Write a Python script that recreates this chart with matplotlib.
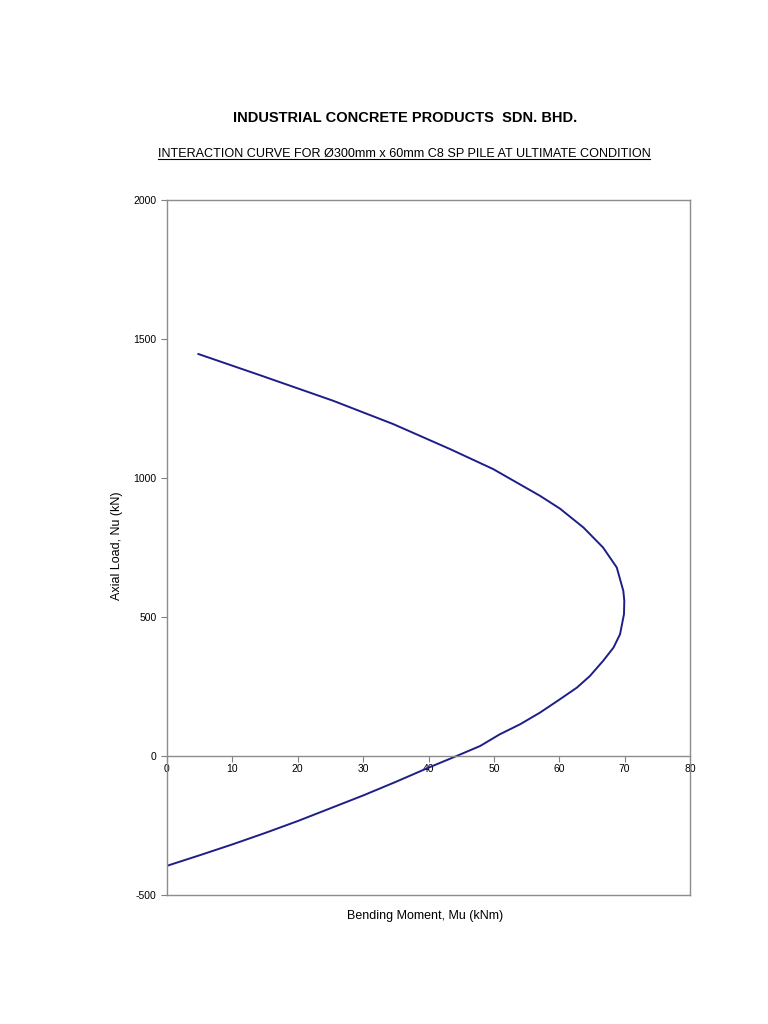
import numpy as np
import matplotlib
matplotlib.use("Agg")
import matplotlib.pyplot as plt
from matplotlib.lines import Line2D

plt.rcParams['font.family'] = ['Liberation Sans', 'DejaVu Sans']
plt.rcParams['axes.unicode_minus'] = False

# interaction curve (moment kNm, axial load kN)
moment = [4.8, 14.2, 25.4, 34.6, 43.3, 49.9, 57.05, 60.1, 63.7, 66.7, 68.8,
          69.8, 69.95, 69.9, 69.3, 68.3, 66.7, 64.7, 62.7, 60.1, 57.05, 54.0,
          50.9, 47.9, 44.3, 40.0, 35.0, 30.0, 25.0, 20.0, 15.0, 10.0, 5.0, 0.0]
axial = [1446, 1370, 1278, 1194, 1104, 1032, 936, 890, 822, 750, 678,
         594, 558, 510, 438, 390, 342, 288, 246, 204, 156, 114,
         78, 36, 0, -42, -93, -142, -188, -234, -277, -318, -357, -395]

x_ticks = [0, 10, 20, 30, 40, 50, 60, 70, 80]
y_ticks = [-500, 0, 500, 1000, 1500, 2000]

title = "INDUSTRIAL CONCRETE PRODUCTS  SDN. BHD."
subtitle = "INTERACTION CURVE FOR \u00d8300mm x 60mm C8 SP PILE AT ULTIMATE CONDITION"

fig = plt.figure(figsize=(7.68, 10.24), dpi=100)
ax = fig.add_axes([167/768, 1-895/1024, 523/768, 695/1024])

ax.plot(moment, axial, color='#1e1e88', linewidth=1.4, solid_joinstyle='round')

ax.set_xlim(0, 80)
ax.set_ylim(-500, 2000)
ax.set_xticks(x_ticks)
ax.set_yticks(y_ticks)
ax.tick_params(labelsize=7.5, length=4, width=0.8, color='#808080')
ax.tick_params(axis='x', pad=2)

for s in ax.spines.values():
	s.set_color('#8c8c8c')
	s.set_linewidth(1.0)
# x axis sits on the zero line, the frame still closes at the bottom
ax.spines['bottom'].set_position(('data', 0))
ax.plot([0, 1], [0, 0], transform=ax.transAxes, color='#8c8c8c', lw=1.0, clip_on=False)

ax.set_xlabel("Bending Moment, Mu (kNm)", fontsize=9)
ax.set_ylabel("Axial Load, Nu (kN)", fontsize=9)
ax.xaxis.set_label_coords(0.493, -0.022)
ax.yaxis.set_label_coords(-0.085, 0.502)

fig.text(0.528, 1-118/1024, title, ha='center', va='center', fontsize=10.5, fontweight='bold')
sub = fig.text(0.526, 1-154/1024, subtitle, ha='center', va='center', fontsize=9.1)

# underline the subtitle
fig.canvas.draw()
bb = sub.get_window_extent().transformed(fig.transFigure.inverted())
fig.add_artist(Line2D([bb.x0, bb.x1], [bb.y0 + 0.001, bb.y0 + 0.001], color='black', lw=0.8,
                      transform=fig.transFigure))

fig.savefig("out.png", dpi=100)
